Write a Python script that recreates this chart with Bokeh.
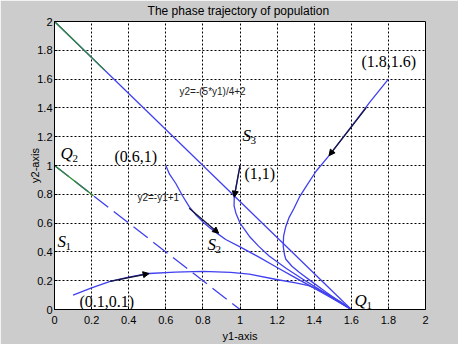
from bokeh.plotting import figure
from bokeh.models import FixedTicker, Arrow, NormalHead, ColumnDataSource, Range1d
from bokeh.core.properties import value
from bokeh.embed import file_html
from bokeh.resources import INLINE

title_text = "The phase trajectory  of population"
x_label = "y1-axis"
y_label = "y2-axis"
ticks = [0, 0.2, 0.4, 0.6, 0.8, 1, 1.2, 1.4, 1.6, 1.8, 2]
tick_labels = ["0", "0.2", "0.4", "0.6", "0.8", "1", "1.2", "1.4", "1.6", "1.8", "2"]

# isocline y2 = -(5*y1)/4 + 2
iso1_x = [0, 1.6]
iso1_y = [2, 0]
# isocline y2 = -y1 + 1 (dashed)
iso2_x = [0, 1]
iso2_y = [1, 0]
# green parts near the y2 axis
green1_x = [0, 0.27]
green1_y = [2, 1.6625]
green2_x = [0, 0.21]
green2_y = [1, 0.79]

# trajectories
ta_x = [0.1, 0.2, 0.3, 0.4, 0.51, 0.65, 0.8, 0.95, 1.05, 1.19, 1.3, 1.37, 1.43, 1.48, 1.54, 1.6]
ta_y = [0.1, 0.15, 0.196, 0.225, 0.25, 0.26, 0.265, 0.258, 0.245, 0.21, 0.185, 0.166, 0.135, 0.10, 0.055, 0.0]
tb_x = [0.6, 0.62, 0.654, 0.69, 0.726, 0.76, 0.798, 0.84, 0.879, 0.923, 1.0, 1.1, 1.2, 1.283, 1.4, 1.5, 1.6]
tb_y = [1.0, 0.94, 0.875, 0.79, 0.714, 0.66, 0.61, 0.565, 0.527, 0.486, 0.435, 0.365, 0.292, 0.232, 0.148, 0.075, 0.0]
tc_x = [1.0, 0.99, 0.98, 0.969, 0.968, 0.978, 1.0, 1.05, 1.1, 1.157, 1.25, 1.337, 1.42, 1.5, 1.6]
tc_y = [1.0, 0.93, 0.86, 0.783, 0.72, 0.669, 0.6, 0.509, 0.44, 0.372, 0.285, 0.212, 0.145, 0.08, 0.0]
td_x = [1.8, 1.7, 1.6, 1.48, 1.41, 1.355, 1.32, 1.29, 1.265, 1.247, 1.235, 1.233, 1.24, 1.247, 1.28, 1.319, 1.39, 1.463, 1.53, 1.6]
td_y = [1.6, 1.44, 1.27, 1.068, 0.96, 0.851, 0.78, 0.70, 0.64, 0.577, 0.51, 0.44, 0.38, 0.349, 0.30, 0.258, 0.19, 0.121, 0.06, 0.0]

# direction arrows (dark segments)
arrow_x0 = [0.30, 0.726, 1.0, 1.68]
arrow_y0 = [0.196, 0.703, 1.0, 1.40]
arrow_x1 = [0.51, 0.885, 0.969, 1.48]
arrow_y1 = [0.25, 0.53, 0.78, 1.068]

# point labels (serif)
pt_text = ["(1.8,1.6)", "(0.6,1)", "(1,1)", "(0.1,0.1)"]
pt_x = [1.655, 0.323, 1.024, 0.135]
pt_y = [1.72, 1.06, 0.945, 0.058]

# equation labels
eq_text = ["y2=-(5*y1)/4+2", "y2=-y1+1"]
eq_x = [0.674, 0.447]
eq_y = [1.514, 0.78]

# italic letters with subscripts
let_text = ["Q", "Q", "S", "S", "S"]
sub_text = ["1", "2", "1", "2", "3"]
let_x = [1.617, 0.032, 0.016, 0.825, 1.013]
let_y = [0.06, 1.08, 0.47, 0.45, 1.21]

BLUE = "#4040f0"
GREEN = "#2f8a2f"
GRAY = "#cccccc"
SUB_SHIFT = {"Q": 12, "S": 8}

p = figure(width=458, height=344, output_backend="svg", toolbar_location=None,
           x_range=Range1d(0, 2), y_range=Range1d(0, 2),
           min_border_left=54, min_border_right=33, min_border_top=21, min_border_bottom=31,
           title=title_text)
p.title.text_font = "Liberation Sans"
p.title.text_font_size = "12px"
p.title.text_font_style = "normal"
p.title.text_color = "black"
p.title.align = "center"
p.title.vertical_align = "top"
p.title.standoff = 4
p.background_fill_color = "white"
p.border_fill_color = GRAY
p.outline_line_color = "black"
p.outline_line_width = 1

for ax in (p.xaxis[0], p.yaxis[0]):
    ax.ticker = FixedTicker(ticks=ticks)
    ax.major_label_overrides = {t: l for t, l in zip(ticks, tick_labels)}
    ax.major_label_text_font = "Liberation Sans"
    ax.major_label_text_font_size = "11px"
    ax.major_label_text_color = "black"
    ax.axis_label_text_font = "Liberation Sans"
    ax.axis_label_text_font_size = "11px"
    ax.axis_label_text_font_style = "normal"
    ax.axis_label_text_color = "black"
    ax.axis_line_color = "black"
    ax.major_tick_in = 3
    ax.major_tick_out = 0
    ax.minor_tick_line_color = None
p.xaxis.axis_label = x_label
p.yaxis.axis_label = y_label
p.xaxis.major_label_standoff = 6
p.xaxis.axis_label_standoff = 3
p.yaxis.major_label_standoff = 2
p.yaxis.axis_label_standoff = -7
p.yaxis.major_label_orientation = "horizontal"

p.grid.grid_line_color = "black"
p.grid.grid_line_dash = "2 2"
p.grid.grid_line_alpha = 1.0

LW = 1.3
p.line(iso1_x, iso1_y, line_color=BLUE, line_width=LW)
p.line(iso2_x, iso2_y, line_color=BLUE, line_width=LW, line_dash="18 7")
p.line(green1_x, green1_y, line_color=GREEN, line_width=LW)
p.line(green2_x, green2_y, line_color=GREEN, line_width=LW)

for xs, ys in ((ta_x, ta_y), (tb_x, tb_y), (tc_x, tc_y), (td_x, td_y)):
    p.line(xs, ys, line_color=BLUE, line_width=LW)

asrc = ColumnDataSource(dict(x0=arrow_x0, y0=arrow_y0, x1=arrow_x1, y1=arrow_y1))
p.add_layout(Arrow(source=asrc, x_start="x0", y_start="y0", x_end="x1", y_end="y1",
                   line_color="#15153a", line_width=1.3,
                   end=NormalHead(size=6, fill_color="black", line_color="black", line_width=1)))

p.text(x=pt_x, y=pt_y, text=pt_text, text_font=value("Liberation Serif"),
       text_font_size="16px", text_baseline="middle", text_align="left", text_color="black")
p.text(x=eq_x, y=eq_y, text=eq_text, text_font=value("Liberation Sans"),
       text_font_size="10px", text_baseline="middle", text_align="left", text_color="#222222")
p.text(x=let_x, y=let_y, text=let_text, text_font=value("Liberation Serif"),
       text_font_size="17px", text_font_style="italic", text_baseline="middle",
       text_align="left", text_color="black")
p.text(x=let_x, y=let_y, text=sub_text, text_font=value("Liberation Serif"),
       text_font_size="11px", text_baseline="middle", text_align="left", text_color="black",
       x_offset=[SUB_SHIFT[t] for t in let_text], y_offset=5)

html = file_html(p, INLINE)
html = html.replace("<body>", '<body style="background-color:#cccccc">', 1)
open("out.html", "w").write(html)
